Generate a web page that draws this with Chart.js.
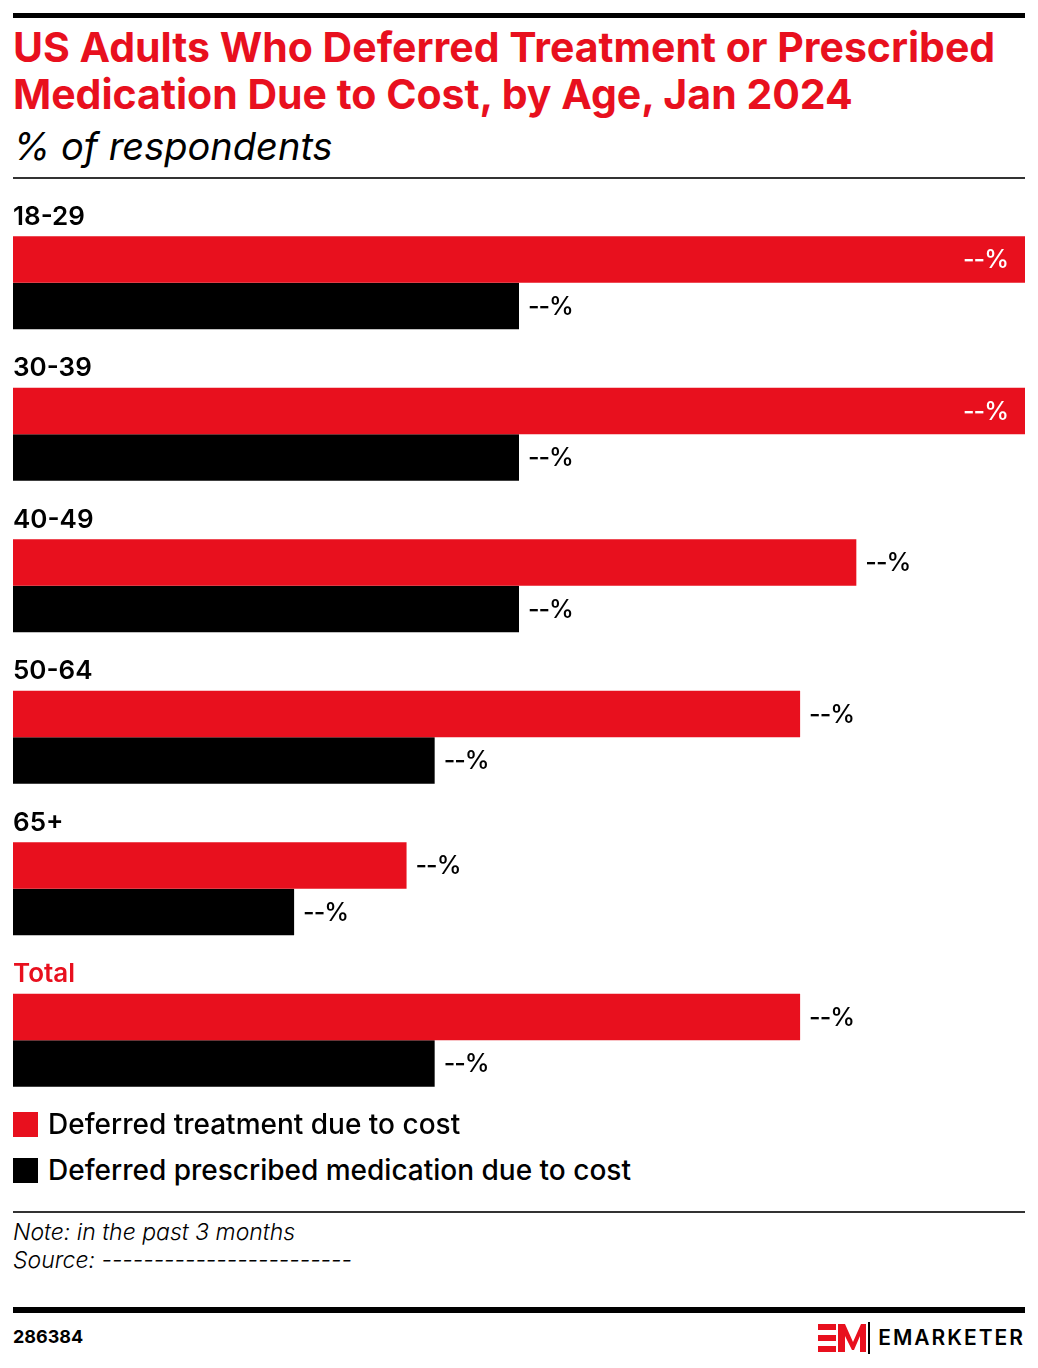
<!DOCTYPE html>
<html>
<head>
<meta charset="utf-8">
<script src="https://cdn.jsdelivr.net/npm/chart.js@4"></script>
<style>
  html, body { margin: 0; padding: 0; background: #fff; }
  body { width: 1038px; height: 1368px; position: relative; overflow: hidden; font-family: Inter, "Noto Sans", sans-serif; color: #000; }
  .rule-top { position: absolute; left: 13px; right: 13px; top: 13px; height: 5px; background: #000; }
  .title { position: absolute; left: 13px; top: 24px; font-size: 41px; line-height: 47px; font-weight: 700; color: #e8101e; letter-spacing: 0; }
  .subtitle { position: absolute; left: 13px; top: 123px; font-size: 38px; font-style: italic; font-weight: 400; }
  .rule-thin { position: absolute; left: 13px; right: 13px; height: 2px; background: #333; }
  #wrap { position: absolute; left: 0; top: 200px; width: 1038px; height: 925px; }
  .legend { position: absolute; left: 13px; font-size: 28px; font-weight: 500; display: flex; align-items: center; }
  .legend span.sw { width: 25px; height: 25px; margin-right: 10px; display: inline-block; }
  .note { position: absolute; left: 13px; top: 1218px; font-size: 23px; font-style: italic; font-weight: 300; line-height: 28px; }
  .rule-bottom { position: absolute; left: 13px; right: 13px; top: 1307px; height: 6px; background: #000; }
  .id { position: absolute; left: 13px; top: 1326px; font-size: 18px; font-weight: 700; }
  .logo { position: absolute; right: 13px; top: 1322px; display: flex; align-items: center; height: 32px; }
  .logo .word { font-size: 21px; font-weight: 600; letter-spacing: 2px; padding-left: 8px; border-left: 2px solid #000; line-height: 32px; }
</style>
</head>
<body>
<div class="rule-top"></div>
<div class="title">US Adults Who Deferred Treatment or Prescribed<br>Medication Due to Cost, by Age, Jan 2024</div>
<div class="subtitle">% of respondents</div>
<div class="rule-thin" style="top:177px"></div>
<div id="wrap"><canvas id="chart"></canvas></div>
<div class="legend" style="top:1107px"><span class="sw" style="background:#e8101e"></span>Deferred treatment due to cost</div>
<div class="legend" style="top:1153px"><span class="sw" style="background:#000"></span>Deferred prescribed medication due to cost</div>
<div class="rule-thin" style="top:1211px"></div>
<div class="note">Note: in the past 3 months<br>Source: ------------------------</div>
<div class="rule-bottom"></div>
<div class="id">286384</div>
<div class="logo">
  <svg width="50" height="32" viewBox="0 0 50 32">
    <rect x="0" y="2" width="18" height="6" fill="#e8101e"/>
    <rect x="0" y="13" width="18" height="6" fill="#e8101e"/>
    <rect x="0" y="24" width="18" height="6" fill="#e8101e"/>
    <polygon points="20,2 27,2 35,20 43,2 48,2 48,30 42,30 42,14 36,28 34,28 27,14 27,30 20,30" fill="#e8101e"/>
  </svg>
  <span class="word">EMARKETER</span>
</div>
<script>
// categories and values (labels in the source are masked as --%)
const categories = ['18-29', '30-39', '40-49', '50-64', '65+', 'Total'];
const treatmentValues = [36, 36, 30, 28, 14, 28];
const medicationValues = [18, 18, 18, 15, 10, 15];
const valueLabel = '--%';
const seriesNames = ['Deferred treatment due to cost', 'Deferred prescribed medication due to cost'];

const RED = '#e8101e';

// Group titles above each pair of bars and value labels at bar ends
const labelsPlugin = {
  id: 'groupLabels',
  afterDatasetsDraw(chart) {
    const ctx = chart.ctx;
    const yScale = chart.scales.y;
    const area = chart.chartArea;
    ctx.save();
    ctx.textBaseline = 'middle';
    // category names
    ctx.font = '600 26px Inter, sans-serif';
    ctx.textAlign = 'left';
    categories.forEach((cat, i) => {
      const band = (yScale.getPixelForValue(1) - yScale.getPixelForValue(0));
      const top = yScale.getPixelForValue(i) - band / 2;
      ctx.fillStyle = cat === 'Total' ? RED : '#000';
      ctx.fillText(cat, area.left, top + 10);
    });
    // value labels
    ctx.font = '500 25px Inter, sans-serif';
    ctx.letterSpacing = '-1px';
    chart.data.datasets.forEach((ds, di) => {
      chart.getDatasetMeta(di).data.forEach((bar) => {
        const x = bar.x;
        const y = bar.y;
        if (x > area.right - 60) {
          ctx.fillStyle = '#fff';
          ctx.textAlign = 'right';
          ctx.fillText(valueLabel, x - 17, y + 1);
        } else {
          ctx.fillStyle = '#000';
          ctx.textAlign = 'left';
          ctx.fillText(valueLabel, x + 9, y + 1);
        }
      });
    });
    ctx.restore();
  }
};

new Chart(document.getElementById('chart'), {
  type: 'bar',
  data: {
    labels: categories,
    datasets: [
      { label: seriesNames[0], data: treatmentValues, backgroundColor: RED },
      { label: seriesNames[1], data: medicationValues, backgroundColor: '#000' }
    ]
  },
  options: {
    indexAxis: 'y',
    responsive: true,
    maintainAspectRatio: false,
    animation: false,
    categoryPercentage: 0.614,
    barPercentage: 1,
    layout: { padding: { left: 13, right: 13, top: 7, bottom: 9 } },
    scales: {
      x: { display: false, min: 0, max: 36 },
      y: { display: false }
    },
    plugins: {
      legend: { display: false },
      tooltip: { enabled: false }
    }
  },
  plugins: [labelsPlugin]
});
</script>
</body>
</html>
